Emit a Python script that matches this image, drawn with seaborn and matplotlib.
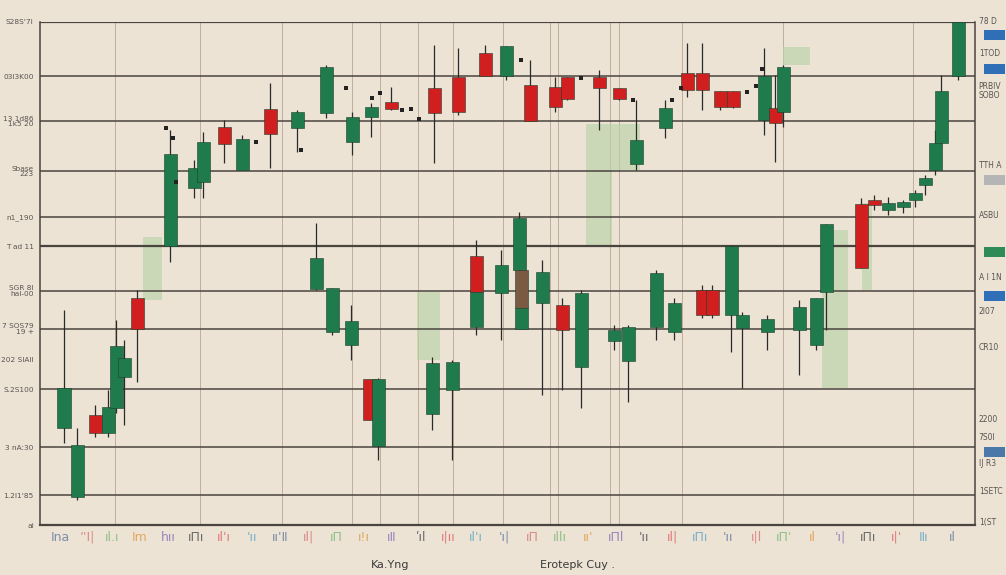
import numpy as np
import pandas as pd
import seaborn as sns
import matplotlib
matplotlib.use("Agg")
import matplotlib.pyplot as plt
from matplotlib.patches import Rectangle

# ---------------- data ----------------
t = [64, 77, 95, 108, 116, 124, 137, 170, 194, 203, 224, 242, 270, 297, 326, 352, 371, 391,
     434, 458, 485, 506, 530, 555, 567, 599, 619, 636, 665, 687, 702, 720, 733, 764, 775, 783,
     935, 941, 958, 316, 332, 351, 369, 378, 432, 452, 476, 476, 501, 519, 521, 521, 542, 562,
     581, 614, 628, 656, 674, 702, 712, 731, 742, 767, 799, 816, 826, 861, 874, 888, 903, 915, 925]
open_ = [97, 28, 110, 92, 117, 148, 227, 279, 337, 343, 398, 355, 416, 397, 412, 383, 408, 423,
         437, 448, 472, 449, 440, 438, 448, 448, 437, 361, 397, 452, 452, 434, 434, 405, 417, 413,
         355, 382, 449, 236, 193, 180, 146, 79, 111, 135, 269, 198, 232, 255, 255, 196, 222, 220,
         158, 184, 164, 198, 193, 235, 235, 210, 197, 193, 195, 180, 233, 321, 325, 315, 318, 325, 340]
high = [215, 97, 120, 135, 205, 185, 235, 395, 365, 393, 405, 390, 442, 415, 460, 413, 422, 438,
        480, 477, 480, 479, 465, 448, 448, 455, 437, 425, 425, 482, 482, 434, 434, 477, 450, 460,
        395, 450, 505, 302, 237, 220, 146, 147, 168, 165, 285, 233, 275, 313, 255, 217, 265, 227,
        235, 200, 200, 255, 227, 240, 240, 280, 213, 210, 225, 227, 301, 327, 330, 328, 325, 335, 350]
low = [82, 25, 88, 88, 112, 100, 143, 263, 327, 327, 362, 355, 357, 373, 407, 370, 388, 415,
       362, 410, 449, 445, 404, 413, 425, 395, 425, 355, 387, 428, 415, 415, 417, 390, 363, 398,
       350, 377, 445, 235, 190, 165, 105, 65, 95, 65, 233, 190, 185, 255, 217, 196, 130, 135,
       117, 175, 123, 185, 185, 207, 207, 173, 137, 175, 150, 175, 195, 257, 315, 310, 312, 318, 330]
close = [137, 80, 92, 118, 179, 167, 196, 371, 357, 383, 381, 386, 391, 413, 458, 408, 418, 416,
         412, 413, 449, 479, 404, 418, 426, 437, 426, 385, 417, 435, 435, 418, 418, 449, 402, 458,
         382, 434, 503, 267, 237, 204, 105, 146, 162, 163, 233, 233, 260, 307, 217, 217, 253, 195,
         232, 195, 198, 252, 222, 210, 210, 279, 210, 206, 218, 227, 301, 257, 320, 322, 323, 332, 347]
brown_idx = [50]

# small dark tick marks between candles
mark_t = [166, 173, 176, 256, 301, 346, 372, 380, 402, 411, 419, 521, 581, 633, 672, 681, 747, 756, 762]
mark_p = [397, 387, 343, 383, 375, 437, 427, 432, 415, 416, 406, 465, 447, 425, 425, 437, 433, 439, 456]

# light green shaded zones
shade_x0 = [143, 586, 612, 417, 822, 862, 783]
shade_x1 = [162, 612, 640, 440, 848, 872, 810]
shade_lo = [225, 280, 355, 165, 137, 235, 460]
shade_hi = [288, 401, 401, 233, 295, 322, 478]

grid_levels = [0, 30, 78, 136, 165, 196, 234, 279, 308, 354, 404, 449, 503]
ytick_labels = ["ai", "1.2I1'85", "3 nA:30", "S.2S100", "202 SIAII", "7 SOS79\n19 +",
                "SGR 8I\nhal-00", "T ad 11", "n1_190", "Sbase\n223", "13 1d86\n1k5 20",
                "03I3K00", "S28S'7I"]
line_levels = [0, 30, 78, 136, 196, 234, 279, 308, 354, 404, 449, 503]

vlines_x = [115, 200, 282, 352, 380, 418, 453, 503, 550, 558, 610, 619, 682, 783, 913]

bottom_ticks = [60, 88, 112, 140, 168, 196, 224, 252, 280, 308, 336, 364, 392, 420, 448, 476,
                504, 532, 560, 588, 616, 644, 672, 700, 728, 756, 784, 812, 840, 868, 896, 924, 952]
bottom_labels = ["Ina", "ʼ'I|", "ıl.ı", "Im", "hıı", "ıΠı", "ıl'ı", "'ıı", "ıı'Ⅱ", "ıl|",
                 "ıΠ", "ı!ı", "ıⅡ", "ʹıl", "ı|ıı", "ıl'ı", "'ı|", "ıΠ", "ıllı", "ıı'",
                 "ıΠl", "'ıı", "ıl|", "ıΠı", "'ıı", "ı|l", "ıΠ'", "ıl", "'ı|", "ıΠı", "ı|'", "Ⅱı", "ıl"]
right_labels = ["78 D", "1TOD", "PRBIV\nSOBO", "TTH A", "ASBU", "A I 1N", "2I07", "CR10",
                "2200", "7S0I", "IJ R3", "1SETC", "1(ST"]
right_label_p = [503, 472, 434, 360, 310, 247, 213, 177, 105, 87, 61, 33, 3]
right_box_p = [490, 456, 345, 273, 229, 73]
right_box_c = ["#2f6fb8", "#2f6fb8", "#b5b5b5", "#2e8b57", "#2f6fb8", "#4a78a8"]

# ---------------- style ----------------
BG = "#ece3d5"
GREEN = "#1f7a4c"
RED = "#d11f1f"
BROWN = "#7b5a44"
LINE = "#4a443e"

sns.set_theme(style="white")
plt.rcParams["font.family"] = ["DejaVu Sans"]

df = pd.DataFrame({"t": t, "open": open_, "high": high, "low": low, "close": close})
df["up"] = df["close"] >= df["open"]
df["bottom"] = df[["open", "close"]].min(axis=1)
df["size"] = (df["close"] - df["open"]).abs().clip(lower=2)
colors = np.where(df["up"], GREEN, RED).astype(object)
for i in brown_idx:
    colors[i] = BROWN

fig = plt.figure(figsize=(10.06, 5.75), dpi=100, facecolor=BG)
ax = fig.add_axes([40 / 1006, 50 / 575, 935 / 1006, 503 / 575])
ax.set_facecolor(BG)
ax.set_xlim(40, 975)
ax.set_ylim(0, 503)

for v in vlines_x:
    ax.axvline(v, color="#bfae9e", lw=0.7, zorder=1)

for x0, x1, lo, hi in zip(shade_x0, shade_x1, shade_lo, shade_hi):
    ax.add_patch(Rectangle((x0, lo), x1 - x0, hi - lo, facecolor="#b9d3a8",
                           alpha=0.65, edgecolor="none", zorder=1.5))

for g in line_levels:
    ax.axhline(g, color=LINE, lw=1.6 if g in (279, 503) else 1.1, zorder=2)

ax.vlines(df["t"], df["low"], df["high"], color="#2a2a2a", lw=0.9, zorder=3)
ax.bar(df["t"], df["size"], bottom=df["bottom"], width=13, color=list(colors),
       edgecolor="#1c3d2c", linewidth=0.4, zorder=4)

marks = pd.DataFrame({"t": mark_t, "p": mark_p})
sns.scatterplot(data=marks, x="t", y="p", marker="s", s=12, color="#222222",
                edgecolor="none", ax=ax, zorder=5, legend=False)

for s in ["left", "right", "bottom"]:
    ax.spines[s].set_color(LINE)
    ax.spines[s].set_linewidth(1.1)
ax.spines["bottom"].set_linewidth(1.6)
ax.spines["top"].set_visible(False)

ax.set_yticks(grid_levels)
ax.set_yticklabels(ytick_labels, fontsize=5.3, color="#5a5450", linespacing=0.9)
ax.tick_params(axis="y", length=3, width=0.8, color=LINE, pad=1.5)

ax.set_xticks(bottom_ticks)
ax.set_xticklabels(bottom_labels, fontsize=9)
cyc = ["#7d8ea8", "#d98a8a", "#8fc08a", "#e2a85e", "#9a86bd", "#6a6a6a", "#e07a7a", "#79b3c9"]
for k, lab in enumerate(ax.get_xticklabels()):
    lab.set_color(cyc[k % len(cyc)])
ax.tick_params(axis="x", length=0, pad=4)
ax.set_xlabel("")
ax.set_ylabel("")

ytr = ax.get_yaxis_transform()
for lab, p in zip(right_labels, right_label_p):
    ax.text(1.004, p, lab, transform=ytr, fontsize=5.5, color="#5a5450",
            va="center", ha="left", clip_on=False, linespacing=0.9)
for p, c in zip(right_box_p, right_box_c):
    ax.add_patch(Rectangle((1.01, p - 5), 0.022, 10, transform=ytr, facecolor=c,
                           edgecolor="none", clip_on=False, zorder=6))

fig.text(390 / 1006, 1 - 565 / 575, "Ka.Yng", ha="center", va="center",
         fontsize=8, color="#3a3a3a")
fig.text(578 / 1006, 1 - 565 / 575, "Erotepk Cuy .", ha="center", va="center",
         fontsize=8, color="#3a3a3a")

fig.savefig("out.png", dpi=100, facecolor=BG)
